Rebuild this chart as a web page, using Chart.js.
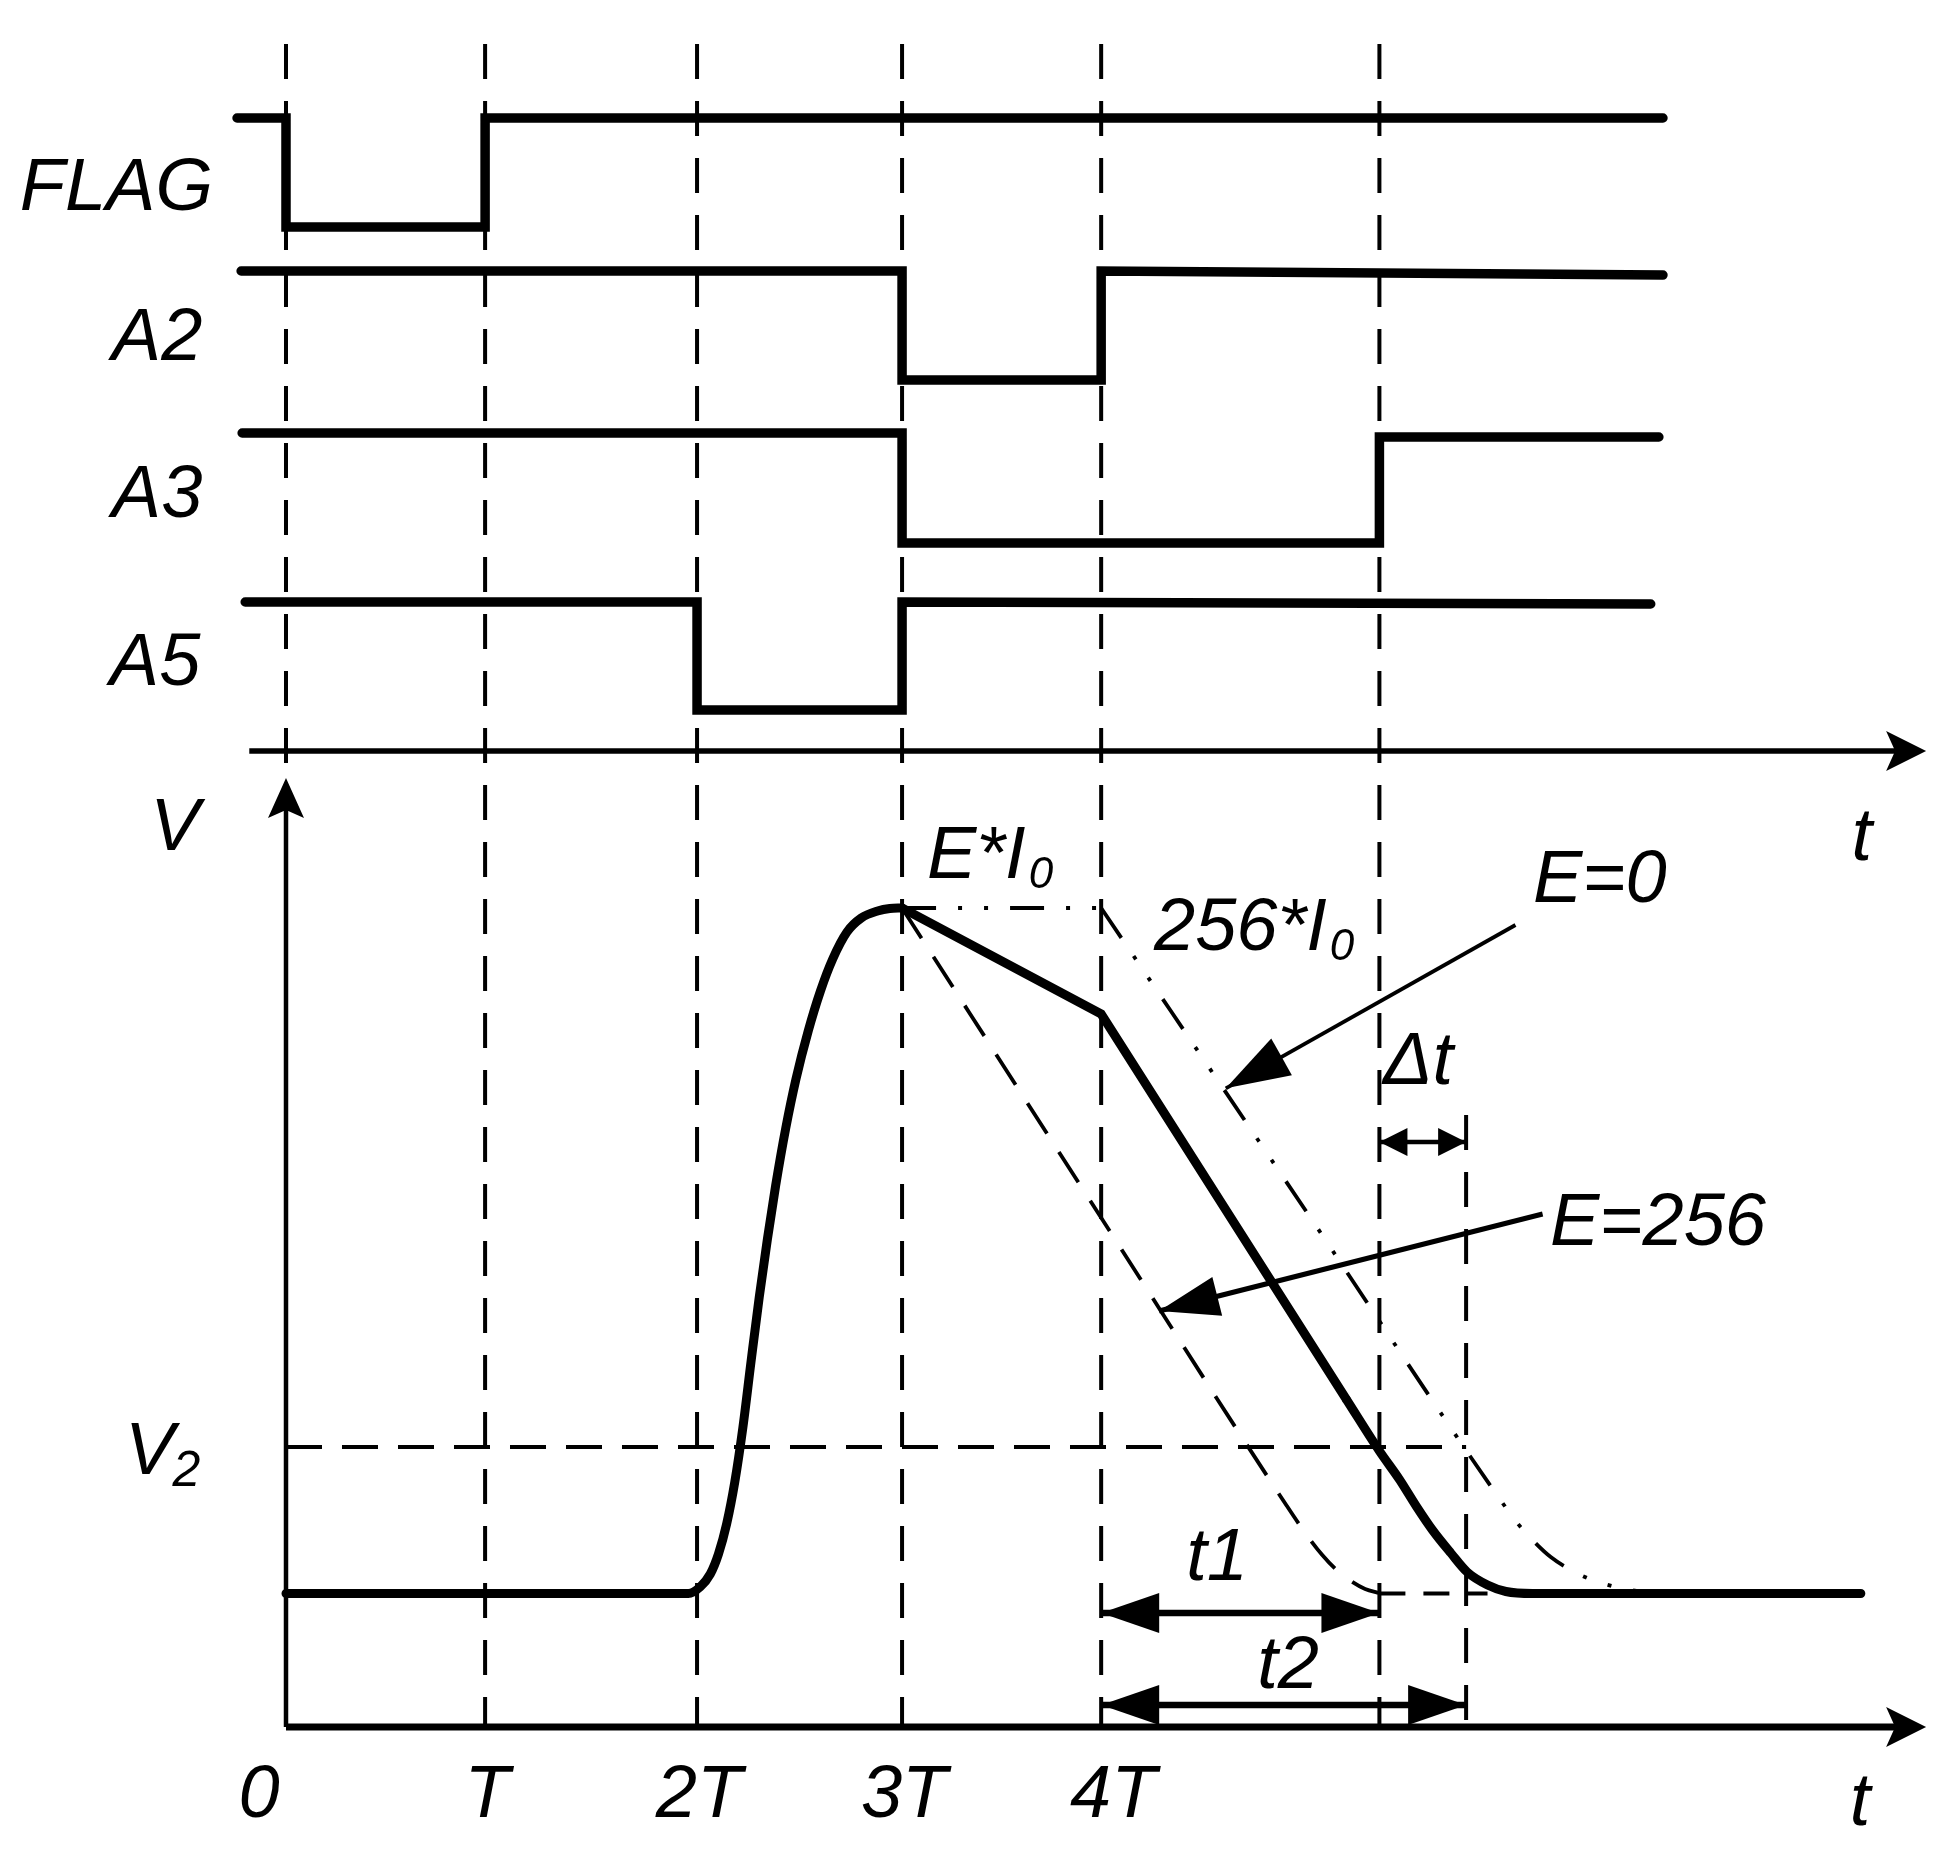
<!DOCTYPE html>
<html>
<head>
<meta charset="utf-8">
<title>Diagrama de tempo</title>
<script src="https://cdn.jsdelivr.net/npm/chart.js@4.4.1/dist/chart.umd.min.js"></script>
<style>
  html, body { margin: 0; padding: 0; background: #fff; }
  #wrap { width: 1951px; height: 1876px; }
</style>
</head>
<body>
<div id="wrap"><canvas id="diagrama" width="1951" height="1876"></canvas></div>
<script>
// tempo em unidades de T, nível em unidades arbitrárias (0 = eixo de tempo inferior)

// marcas do eixo de tempo
const ticks = [0, 0.976, 2.015, 3.02, 3.996];
const tickLabels = ["0", "T", "2T", "3T", "4T"];
const t1Fim = 5.36;
const t2Fim = 5.785;

// sinais digitais
const flagX = [-0.24, 0, 0, 0.976, 0.976, 6.75];
const flagY = [16.09, 16.09, 15.0, 15.0, 16.09, 16.09];
const a2X = [-0.22, 3.02, 3.02, 3.996, 3.996, 6.75];
const a2Y = [14.56, 14.56, 13.47, 13.47, 14.56, 14.52];
const a3X = [-0.215, 3.02, 3.02, 5.36, 5.36, 6.73];
const a3Y = [12.94, 12.94, 11.84, 11.84, 12.90, 12.90];
const a5X = [-0.2, 2.015, 2.015, 3.02, 3.02, 6.69];
const a5Y = [11.25, 11.25, 10.17, 10.17, 11.25, 11.23];

// níveis de V
const vBase = 1.335;
const v2 = 2.80;
const eixoTopo = 9.76;   // eixo t dos sinais
const eixoFim = 8.04;    // ponta das setas dos eixos t
const vTopo = 9.49;      // ponta da seta do eixo V

// curva V(t) principal
const subidaX = [0, 1.972, 2.03, 2.08, 2.12, 2.16, 2.20, 2.24, 2.28, 2.32, 2.36, 2.40, 2.45, 2.50, 2.56, 2.62, 2.68, 2.75, 2.82, 2.90, 2.96, 3.02];
const subidaY = [1.335, 1.335, 1.40, 1.53, 1.73, 2.03, 2.45, 3.0, 3.66, 4.30, 4.88, 5.41, 5.99, 6.48, 6.96, 7.36, 7.68, 7.95, 8.09, 8.16, 8.185, 8.19];
const retaX = [3.02, 3.996, 5.2];
const retaY = [8.19, 7.13, 3.27];
const caudaX = [5.2, 5.36, 5.46, 5.54, 5.62, 5.71, 5.79, 5.89, 5.98, 6.11, 7.72];
const caudaY = [3.27, 2.76, 2.47, 2.21, 1.97, 1.74, 1.55, 1.42, 1.355, 1.335, 1.335];

// curva E=256 (tracejada)
const e256X = [3.02, 4.0, 4.9, 5.0, 5.08, 5.15, 5.22, 5.29, 5.36];
const e256Y = [8.19, 5.08, 2.23, 1.93, 1.72, 1.57, 1.46, 1.38, 1.34];

// curva E=0 (traço-ponto)
const e0PlanoX = [3.02, 3.996];
const e0PlanoY = [8.19, 8.19];
const e0X = [3.996, 5.0, 5.95, 6.04, 6.12, 6.2, 6.29, 6.39, 6.5, 6.62, 6.75];
const e0Y = [8.19, 5.16, 2.28, 2.03, 1.85, 1.70, 1.58, 1.48, 1.41, 1.36, 1.335];

// setas de anotação [x0, y0, x1, y1]
const setaE0 = [6.027, 8.02, 4.607, 6.387];
const setaE256 = [6.16, 5.13, 4.28, 4.16];
const setaT1Y = 1.14;
const setaT2Y = 0.22;
const setaDtY = 5.85;

function serie(xs, ys, estilo) {
  return Object.assign({
    data: xs.map((x, i) => ({ x: x, y: ys[i] })),
    showLine: true,
    borderColor: "#000",
    backgroundColor: "#000",
    pointRadius: 0,
    fill: false,
    clip: false,
    tension: 0
  }, estilo);
}

const sinal = { borderWidth: 9.5, borderCapStyle: "round", borderJoinStyle: "miter" };
const grade = { borderWidth: 4, borderDash: [35, 22] };
const suave = { borderWidth: 9, cubicInterpolationMode: "monotone", borderCapStyle: "round" };

// linhas verticais tracejadas
const verticais = ticks.concat([t1Fim, t2Fim]).map((t, i) => {
  const topo = t === t2Fim ? 6.12 : 16.83;
  const base = i === 0 ? vTopo : 0;
  return serie([t, t], [topo, base], grade);
});

const datasets = [
  ...verticais,
  serie([0, t2Fim], [v2, v2], { borderWidth: 4, borderDash: [36, 20] }),
  serie([t1Fim, 5.89], [vBase, vBase], { borderWidth: 4, borderDash: [26, 18] }),
  serie(flagX, flagY, sinal),
  serie(a2X, a2Y, sinal),
  serie(a3X, a3Y, sinal),
  serie(a5X, a5Y, sinal),
  // eixos
  serie([-0.18, eixoFim - 0.15], [eixoTopo, eixoTopo], { borderWidth: 5.5 }),
  serie([0, eixoFim - 0.15], [0, 0], { borderWidth: 7 }),
  serie([0, 0], [0, vTopo - 0.25], { borderWidth: 4.5 }),
  // curvas
  serie(e256X, e256Y, { borderWidth: 3.8, borderDash: [36, 22], cubicInterpolationMode: "monotone" }),
  serie(e0PlanoX, e0PlanoY, { borderWidth: 3.8, borderDash: [34, 22, 4, 22, 4, 22] }),
  serie(e0X, e0Y, { borderWidth: 3.8, borderDash: [36, 22, 4, 22, 4, 22], cubicInterpolationMode: "monotone" }),
  serie(subidaX, subidaY, suave),
  serie(retaX, retaY, { borderWidth: 9, borderJoinStyle: "miter" }),
  serie(caudaX, caudaY, suave),
  // hastes das setas
  serie([setaE0[0], setaE0[2]], [setaE0[1], setaE0[3]], { borderWidth: 3.8 }),
  serie([setaE256[0], setaE256[2]], [setaE256[1], setaE256[3]], { borderWidth: 5 }),
  serie([ticks[4], t1Fim], [setaT1Y, setaT1Y], { borderWidth: 6.5 }),
  serie([ticks[4], t2Fim], [setaT2Y, setaT2Y], { borderWidth: 6.5 }),
  serie([t1Fim, t2Fim], [setaDtY, setaDtY], { borderWidth: 4.5 })
];

// ponta de seta em pixels, de (ax,ay) para (bx,by)
function ponta(ctx, ax, ay, bx, by, comp, meia, entalhe) {
  const ang = Math.atan2(by - ay, bx - ax);
  ctx.save();
  ctx.translate(bx, by);
  ctx.rotate(ang);
  ctx.beginPath();
  ctx.moveTo(0, 0);
  ctx.lineTo(-comp, meia);
  ctx.lineTo(-comp + entalhe, 0);
  ctx.lineTo(-comp, -meia);
  ctx.closePath();
  ctx.fill();
  ctx.restore();
}

const FONTE = '"Liberation Sans", Arial, sans-serif';

function escreve(ctx, txt, x, y, align, sub, tamanho) {
  const t = tamanho || 74;
  ctx.font = "italic " + t + "px " + FONTE;
  ctx.textAlign = "left";
  ctx.textBaseline = "alphabetic";
  const w = ctx.measureText(txt).width;
  let ws = 0;
  if (sub) {
    ctx.font = "italic " + sub.tam + "px " + FONTE;
    ws = ctx.measureText(sub.txt).width + (sub.dx || 0);
  }
  let x0 = x;
  if (align === "right") x0 = x - w - ws;
  if (align === "center") x0 = x - (w + ws) / 2;
  ctx.font = "italic " + t + "px " + FONTE;
  ctx.fillText(txt, x0, y);
  if (sub) {
    ctx.font = "italic " + sub.tam + "px " + FONTE;
    ctx.fillText(sub.txt, x0 + w + (sub.dx || 0), y + sub.dy);
  }
}

const anotacoes = {
  id: "anotacoes",
  afterDatasetsDraw(chart) {
    const { ctx, scales: { x, y } } = chart;
    const px = v => x.getPixelForValue(v);
    const py = v => y.getPixelForValue(v);
    ctx.save();
    ctx.fillStyle = "#000";

    // setas dos eixos
    ponta(ctx, px(0), py(eixoTopo), px(eixoFim), py(eixoTopo), 40, 20, 9);
    ponta(ctx, px(0), py(0), px(eixoFim), py(0), 40, 20, 9);
    ponta(ctx, px(0), py(0), px(0), py(vTopo), 40, 18, 8);

    // setas t1, t2, Δt
    [[setaT1Y, t1Fim], [setaT2Y, t2Fim]].forEach(([yy, fim]) => {
      ponta(ctx, px(fim), py(yy), px(ticks[4]), py(yy), 58, 20, 0);
      ponta(ctx, px(ticks[4]), py(yy), px(fim), py(yy), 58, 20, 0);
    });
    ponta(ctx, px(t2Fim), py(setaDtY), px(t1Fim), py(setaDtY), 28, 14, 0);
    ponta(ctx, px(t1Fim), py(setaDtY), px(t2Fim), py(setaDtY), 28, 14, 0);

    // setas E=0 e E=256
    ponta(ctx, px(setaE0[0]), py(setaE0[1]), px(setaE0[2]), py(setaE0[3]), 64, 21, 0);
    ponta(ctx, px(setaE256[0]), py(setaE256[1]), px(setaE256[2]), py(setaE256[3]), 60, 20, 0);

    // rótulos dos sinais
    escreve(ctx, "FLAG", px(-0.358), py(15.17), "right");
    escreve(ctx, "A2", px(-0.41), py(13.67), "right");
    escreve(ctx, "A3", px(-0.41), py(12.10), "right");
    escreve(ctx, "A5", px(-0.42), py(10.42), "right");

    // eixos
    escreve(ctx, "V", px(-0.544), py(8.77), "center");
    escreve(ctx, "V", px(-0.789), py(2.53), "left", { txt: "2", tam: 50, dy: 12, dx: -2 });
    escreve(ctx, "t", px(7.725), py(8.67), "center");
    escreve(ctx, "t", px(7.716), py(-0.98), "center");
    tickLabels.forEach((lb, i) => {
      const dx = i === 0 ? -27 : (i === 4 ? 12 : 2);
      escreve(ctx, lb, px(ticks[i]) + dx, py(-0.90), "center");
    });

    // anotações das curvas
    escreve(ctx, "E*I", px(3.142), py(8.49), "left", { txt: "0", tam: 44, dy: 10, dx: 3 });
    escreve(ctx, "256*I", px(4.255), py(7.77), "left", { txt: "0", tam: 44, dy: 10, dx: 3 });
    escreve(ctx, "E=0", px(6.113), py(8.25), "left");
    escreve(ctx, "\u0394t", px(5.377), py(6.43), "left");
    escreve(ctx, "E=256", px(6.196), py(4.82), "left");
    escreve(ctx, "t1", px(4.564), py(1.47), "center");
    escreve(ctx, "t2", px(4.912), py(0.39), "center");

    ctx.restore();
  }
};

new Chart(document.getElementById("diagrama"), {
  type: "scatter",
  data: { datasets: datasets },
  options: {
    responsive: false,
    animation: false,
    devicePixelRatio: 1,
    layout: { padding: 0 },
    plugins: { legend: { display: false }, tooltip: { enabled: false } },
    scales: {
      x: { type: "linear", min: -1.402, max: 8.162, display: false },
      y: { type: "linear", min: -1.49, max: 17.27, display: false }
    }
  },
  plugins: [anotacoes]
});
</script>
</body>
</html>
